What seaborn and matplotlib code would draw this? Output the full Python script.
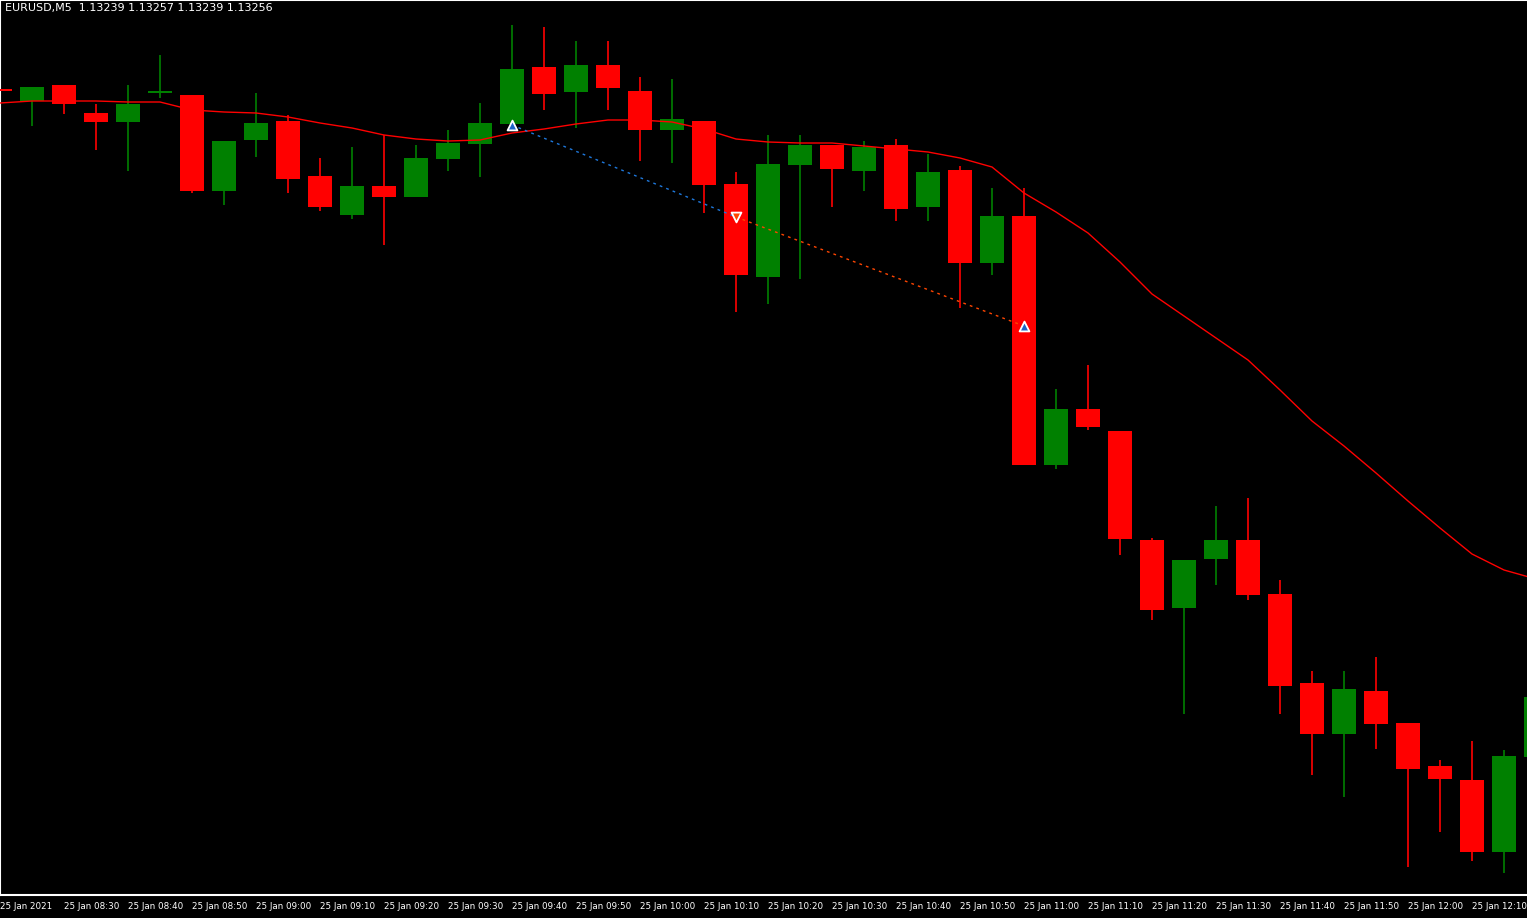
import matplotlib
matplotlib.use("Agg")
import matplotlib.pyplot as plt
import seaborn as sns
import pandas as pd
import numpy as np

times = ["08:20","08:25","08:30","08:35","08:40","08:45","08:50","08:55","09:00","09:05",
         "09:10","09:15","09:20","09:25","09:30","09:35","09:40","09:45","09:50","09:55",
         "10:00","10:05","10:10","10:15","10:20","10:25","10:30","10:35","10:40","10:45",
         "10:50","10:55","11:00","11:05","11:10","11:15","11:20","11:25","11:30","11:35",
         "11:40","11:45","11:50","11:55","12:00","12:05","12:10","12:15","12:20"]
opens = [1.13611,1.13599,1.13615,1.13587,1.13578,1.13607,1.13605,1.13509,1.13560,1.13579,
         1.13524,1.13485,1.13514,1.13503,1.13541,1.13556,1.13576,1.13633,1.13608,1.13635,
         1.13609,1.13570,1.13579,1.13516,1.13423,1.13535,1.13555,1.13529,1.13555,1.13493,
         1.13530,1.13437,1.13484,1.13235,1.13291,1.13269,1.13160,1.13092,1.13141,1.13160,
         1.13106,1.13017,1.12966,1.13009,1.12977,1.12934,1.12920,1.12848,1.12943]
highs = [1.13612,1.13613,1.13615,1.13596,1.13615,1.13645,1.13605,1.13559,1.13607,1.13585,
         1.13542,1.13553,1.13565,1.13555,1.13570,1.13597,1.13675,1.13673,1.13659,1.13659,
         1.13623,1.13621,1.13579,1.13528,1.13565,1.13565,1.13555,1.13559,1.13561,1.13546,
         1.13534,1.13512,1.13512,1.13311,1.13335,1.13269,1.13162,1.13140,1.13194,1.13202,
         1.13120,1.13029,1.13029,1.13043,1.12977,1.12940,1.12959,1.12950,1.13020]
lows = [1.13608,1.13574,1.13586,1.13550,1.13529,1.13602,1.13507,1.13495,1.13543,1.13507,
        1.13489,1.13481,1.13455,1.13503,1.13529,1.13523,1.13572,1.13590,1.13572,1.13590,
        1.13539,1.13537,1.13487,1.13388,1.13396,1.13421,1.13493,1.13509,1.13479,1.13479,
        1.13392,1.13425,1.13235,1.13231,1.13270,1.13145,1.13080,1.12986,1.13115,1.13100,
        1.12986,1.12925,1.12903,1.12951,1.12833,1.12868,1.12839,1.12827,1.12943]
closes = [1.13609,1.13613,1.13596,1.13578,1.13596,1.13609,1.13509,1.13559,1.13577,1.13521,
          1.13493,1.13514,1.13503,1.13542,1.13557,1.13577,1.13631,1.13606,1.13635,1.13612,
          1.13570,1.13581,1.13515,1.13425,1.13536,1.13555,1.13531,1.13553,1.13491,1.13528,
          1.13437,1.13484,1.13235,1.13291,1.13273,1.13161,1.13090,1.13140,1.13160,1.13105,
          1.13014,1.12966,1.13011,1.12976,1.12931,1.12921,1.12848,1.12944,1.13003]
ma = [1.13597,1.13599,1.13599,1.13599,1.13598,1.13598,1.13590,1.13588,1.13587,1.13583,
      1.13577,1.13572,1.13565,1.13561,1.13559,1.13560,1.13567,1.13571,1.13576,1.13580,
      1.13580,1.13578,1.13571,1.13561,1.13558,1.13557,1.13557,1.13554,1.13551,1.13548,
      1.13542,1.13533,1.13507,1.13488,1.13467,1.13438,1.13406,1.13384,1.13362,1.13340,
      1.13310,1.13279,1.13254,1.13227,1.13199,1.13172,1.13146,1.13130,1.13121]
signal_idx = [16, 23, 32]
signal_price = [1.13575, 1.13483, 1.13374]
signal_dir = ["up", "down", "up"]
header = "EURUSD,M5  1.13239 1.13257 1.13239 1.13256"

df = pd.DataFrame({"t": times, "o": opens, "h": highs, "l": lows, "c": closes, "ma": ma})
df["i"] = np.arange(len(df))

sns.set_style("dark", {"axes.facecolor": "black", "figure.facecolor": "black"})
fig = plt.figure(figsize=(15.27, 9.18), dpi=100)
ax = fig.add_axes([0, 23/918, 1, 895/918])
ax.set_facecolor("black")

GREEN, RED = "#008000", "#FF0000"
for _, r in df.iterrows():
    col = GREEN if r.c >= r.o else RED
    ax.vlines(r.i, r.l, r.h, color=col, lw=1.2, zorder=2)
    lo, hi = min(r.o, r.c), max(r.o, r.c)
    ax.bar(r.i, max(hi - lo, 0.000015), bottom=lo, width=0.72, color=col, lw=0, zorder=3)

sns.lineplot(data=df, x="i", y="ma", color=RED, lw=1, ax=ax, zorder=4)

ax.plot(signal_idx[:2], signal_price[:2], ls=(0, (2, 3)), color="#1E78DC", lw=1, zorder=5)
ax.plot(signal_idx[1:], signal_price[1:], ls=(0, (2, 3)), color="#FF4500", lw=1, zorder=5)
for i, p, d in zip(signal_idx, signal_price, signal_dir):
    if d == "up":
        ax.scatter([i], [p], marker="^", s=50, color="#1E64C8", edgecolor="white", lw=1.3, zorder=6)
    else:
        ax.scatter([i], [p], marker="v", s=50, color="#FF4500", edgecolor="white", lw=1.3, zorder=6)

xmax = 1527/32
ticks = [k for k in range(0, len(df), 2) if k < xmax - 1]
labels = ["25 Jan 2021"] + ["25 Jan " + times[k] for k in ticks[1:]]
ax.set_xticks(ticks)
ax.set_xticklabels(labels, ha="left", color="white", fontsize=6.3)
ax.set_xlim(0, xmax)
ax.set_ylim(1.12805, 1.13700)
ax.set_xlabel(""); ax.set_ylabel("")
ax.set_yticks([])
ax.tick_params(axis="x", direction="out", length=3, color="white", pad=2, width=1)
for s in ["top", "left", "bottom"]:
    ax.spines[s].set_visible(True)
    ax.spines[s].set_color("white")
    ax.spines[s].set_linewidth(1.5)
ax.spines["right"].set_visible(False)
ax.grid(False)
ax.text(0.003, 0.997, header, transform=ax.transAxes, color="white", fontsize=8, va="top", ha="left")

fig.savefig("out.png", dpi=100, facecolor="black")
